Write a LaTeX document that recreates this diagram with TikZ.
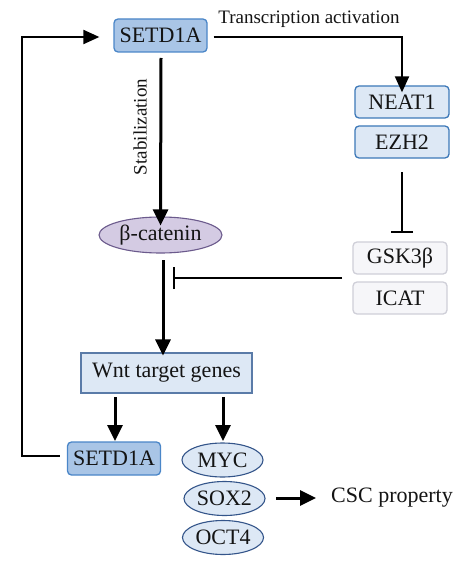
\documentclass[tikz,border=0pt]{standalone}
\usepackage{fontspec}
\setmainfont{Liberation Serif}
\newfontfamily\diagserif{Liberation Serif}
\usetikzlibrary{arrows.meta,shapes.geometric}
\definecolor{darkfill}{HTML}{A9C5E6}
\definecolor{darkedge}{HTML}{4A86C8}
\definecolor{lightfill}{HTML}{DDE8F5}
\definecolor{lightedge}{HTML}{3D78B8}
\definecolor{purpfill}{HTML}{D4CBE3}
\definecolor{purpedge}{HTML}{6B5A8C}
\definecolor{grayfill}{HTML}{F6F6F9}
\definecolor{grayedge}{HTML}{CFCFD8}
\definecolor{ovaledge}{HTML}{34558A}
\definecolor{wntedge}{HTML}{5A7BA8}
\definecolor{textcol}{HTML}{141414}
\tikzset{
  x=1pt, y=-1pt,
  nodefont/.style={font=\diagserif\fontsize{22}{26}\selectfont, text=textcol},
  darkbox/.style={nodefont, draw=darkedge, fill=darkfill, line width=1.3pt, rounded corners=4pt, minimum width=93pt, minimum height=33pt, inner sep=0pt},
  lightbox/.style={nodefont, draw=lightedge, fill=lightfill, line width=1.3pt, rounded corners=4pt, minimum width=94pt, minimum height=32pt, inner sep=0pt},
  graybox/.style={nodefont, draw=grayedge, fill=grayfill, line width=1.3pt, rounded corners=4pt, minimum width=94pt, minimum height=32pt, inner sep=0pt},
  oval/.style={nodefont, ellipse, draw=ovaledge, fill=lightfill, line width=1.1pt, minimum width=81pt, minimum height=34pt, inner sep=0pt},
  lab/.style={font=\diagserif\fontsize{19}{22}\selectfont, text=textcol, inner sep=0pt},
  bigarrow/.style={line width=3pt, -{Triangle[width=15pt,length=16pt]}},
  thinarrow/.style={line width=2pt, -{Triangle[width=14pt,length=16pt]}},
  inhib/.style={line width=1.8pt, -{Bar[width=22pt,line width=1.8pt]}},
}
\begin{document}
\begin{tikzpicture}
\useasboundingbox (0,0) rectangle (474,567);
\fill[white] (0,0) rectangle (474,567);

\node[darkbox] (setTop) at (160.5,35.5) {SETD1A};
\node[lightbox] (neat) at (402,102) {NEAT1};
\node[lightbox] (ezh) at (402,142) {EZH2};
\node[graybox] (gsk) at (400,258) {GSK3β};
\node[graybox] (icat) at (400,298) {ICAT};
\node[nodefont, ellipse, draw=purpedge, fill=purpfill, line width=1.1pt, minimum width=123pt, minimum height=36pt, inner sep=0pt] (bcat) at (160.5,235) {β-catenin};
\node[nodefont, draw=wntedge, fill=lightfill, line width=1.1pt, minimum width=171pt, minimum height=40pt, inner sep=0pt] (wnt) at (166.5,373) {Wnt target genes};
\node[darkbox] (setBot) at (114,458.5) {SETD1A};
\node[oval] (myc) at (222.5,460) {MYC};
\node[oval] (sox) at (224.5,498.5) {SOX2};
\node[oval] (oct) at (223,537.5) {OCT4};
\node[nodefont, inner sep=0pt] (csc) at (392,498) {CSC property};

% top: transcription activation
\coordinate (tcorner) at (402,37);
\draw[thinarrow] ([xshift=6pt]setTop.east |- tcorner) -- (tcorner) -- ([yshift=-7pt]neat.north);
\node[lab] (tlab) at (309,19) {Transcription activation};

% stabilization
\draw[bigarrow] (161,58) -- ([yshift=-9pt]bcat.north);
\node[lab, rotate=90] (slab) at (140,127) {Stabilization};

% EZH2 -| GSK3b
\draw[inhib] (402,172) -- (402,233);

% beta-catenin -> Wnt
\draw[bigarrow] (163,260) -- ([yshift=-3pt]wnt.north -| 163,0);
% GSK3b/ICAT inhibition
\draw[inhib] (342,278) -- (173,278);

% Wnt -> SETD1A, MYC
\draw[bigarrow] (115,397) -- (115,441);
\draw[bigarrow] (223,397) -- (223,441);

% SOX2 -> CSC
\draw[bigarrow] (276,498) -- (316,498);

% feedback loop
\coordinate (fb1) at (22,456);
\coordinate (fb2) at (22,37);
\draw[thinarrow] ([xshift=-7pt]setBot.west |- fb1) -- (fb1) -- (fb2) -- ([xshift=-14pt]setTop.west |- fb2);
\end{tikzpicture}
\end{document}
